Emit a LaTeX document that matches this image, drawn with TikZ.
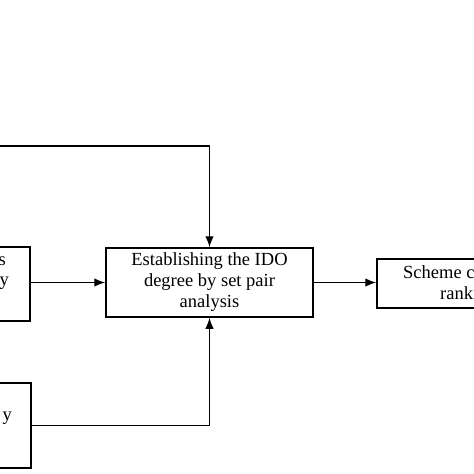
\documentclass[tikz,border=0pt]{standalone}
\usepackage{fontspec}
\setmainfont{Liberation Serif}
\usetikzlibrary{arrows.meta}

\begin{document}
\begin{tikzpicture}[
    x=1pt, y=-1pt,
    box/.style={draw, line width=1.5pt, inner sep=0pt},
    txt/.style={font=\fontsize{18.5}{21}\selectfont, inner sep=0pt},
    link/.style={line width=1.4pt},
    arr/.style={link, -{Latex[length=11pt,width=8.5pt]}}
 ]
\def\xMid{209.5}
\def\yMid{282.5}
\def\yTop{146}
\useasboundingbox (0,0) rectangle (474,474);
\clip (0,0) rectangle (474,474);

    \node[box, txt, align=center, minimum width=207pt, minimum height=69pt] (ido) at (\xMid,\yMid) {Establishing the IDO\\degree by set pair\\analysis};
    \node[box, minimum width=131pt, minimum height=74pt] (upper) at (-35.5,284) {};
    \node[box, minimum width=131pt, minimum height=85pt] (lower) at (-34.5,425.5) {};
    \node[box, minimum width=180pt, minimum height=49pt] (rank) at (467,283.5) {};

    % what is left of the cut texts
    \node[txt, anchor=east] (upperA) at (6,261) {s};
    \node[txt, anchor=east] (upperB) at (9,283) {y};
    \node[txt, anchor=east] (lowerA) at (12,418) {y};
    \node[txt, anchor=west] (rankA) at (403,272) {Scheme cl};
    \node[txt, anchor=west] (rankB) at (440,293) {ranki};

    \coordinate (feed) at (-5,\yTop);

\draw[arr] (feed) -| (ido.north);
\draw[arr] (upper.east |- ido.west) -- (ido.west);
\draw[arr] (lower.east) -| (ido.south);
\draw[arr] (ido.east) -- (ido.east -| rank.west);

\end{tikzpicture}
\end{document}
